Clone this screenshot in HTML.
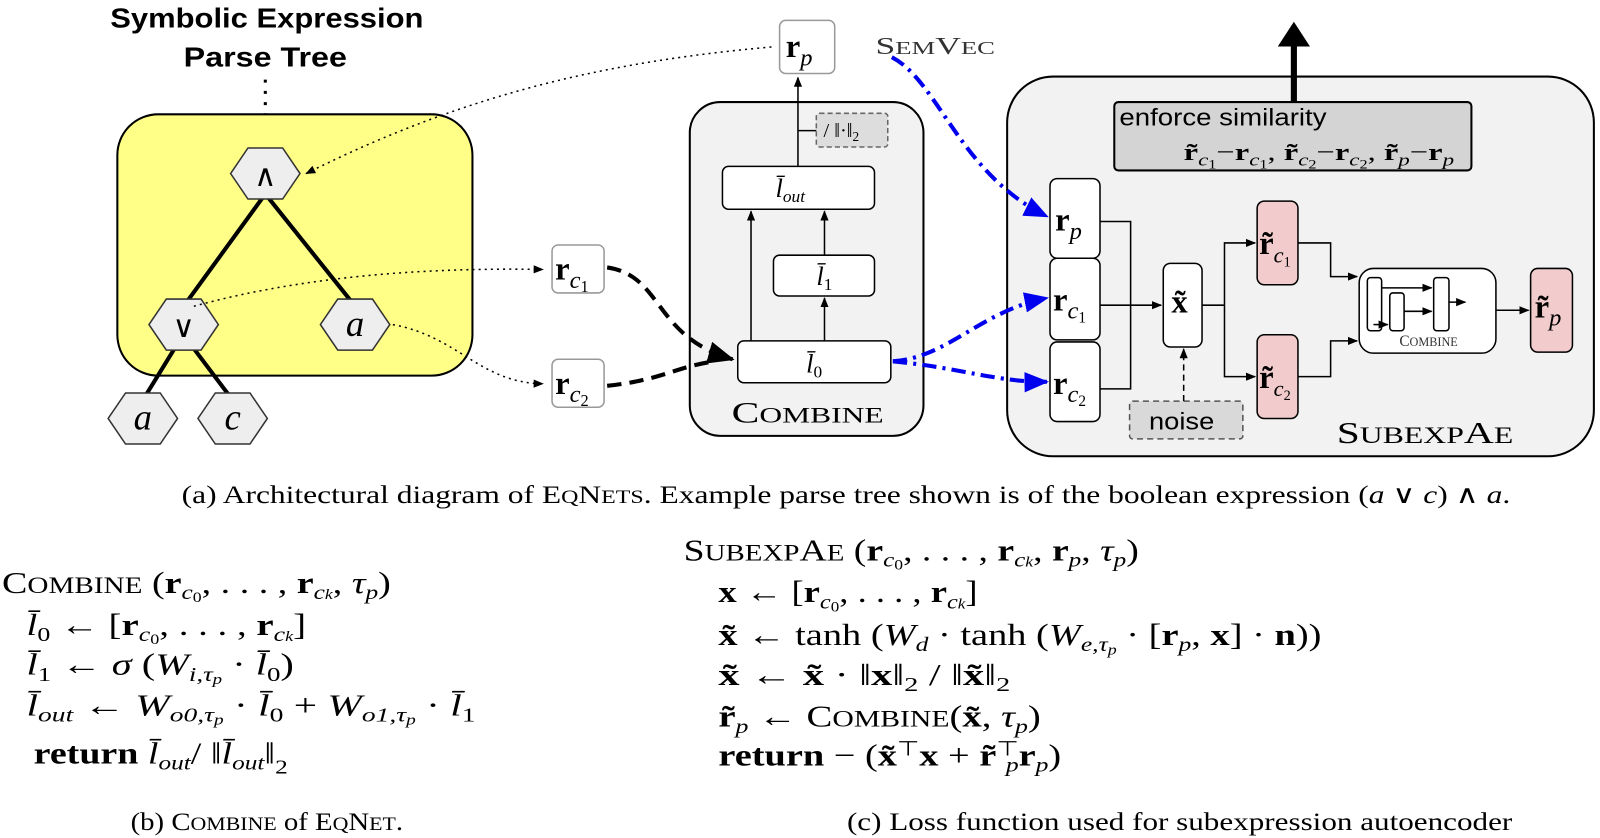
<!DOCTYPE html>
<html><head><meta charset="utf-8"><style>
body{margin:0;background:#fff;}
svg{display:block;}
.s{font-family:"Liberation Serif",serif;}
.ss{font-family:"Liberation Sans",sans-serif;}
</style></head><body>
<svg width="1600" height="838" viewBox="0 0 1568 821" preserveAspectRatio="none" xmlns="http://www.w3.org/2000/svg">
<defs>
<marker id="ab" markerWidth="10" markerHeight="10" refX="9" refY="5" orient="auto" markerUnits="userSpaceOnUse"><path d="M0,1 L10,5 L0,9 Z" fill="#000"/></marker>
<marker id="abig" markerWidth="26" markerHeight="22" refX="24" refY="11" orient="auto" markerUnits="userSpaceOnUse"><path d="M0,0 L26,11 L0,22 Z" fill="#000"/></marker>
<marker id="blue" markerWidth="24" markerHeight="20" refX="22" refY="10" orient="auto" markerUnits="userSpaceOnUse"><path d="M0,0 L24,10 L0,20 Z" fill="#0000ee"/></marker>
</defs>
<g font-family="Liberation Sans, sans-serif" font-weight="bold" font-size="27">
<text x="108" y="27" textLength="307" lengthAdjust="spacingAndGlyphs">Symbolic Expression</text>
<text x="180" y="65" textLength="160" lengthAdjust="spacingAndGlyphs">Parse Tree</text>
</g>
<line x1="260" y1="78" x2="260" y2="132" stroke="#000" stroke-width="3" stroke-dasharray="3,8"/>
<rect x="115" y="112" width="348" height="256" rx="40" fill="#ffff88" stroke="#000" stroke-width="2"/>
<g stroke="#000" stroke-width="4">
<line x1="260" y1="190" x2="180" y2="300"/><line x1="260" y1="190" x2="348" y2="300"/>
<line x1="175" y1="335" x2="140" y2="392"/><line x1="185" y1="335" x2="228" y2="392"/>
</g>
<g fill="#eeeeee" stroke="#333" stroke-width="1.5">
<polygon points="226,170 243,145 277,145 294,170 277,195 243,195"/>
<polygon points="146,318 163,293 197,293 214,318 197,343 163,343"/>
<polygon points="314,318 331,293 365,293 382,318 365,343 331,343"/>
<polygon points="106,410 123,385 157,385 174,410 157,435 123,435"/>
<polygon points="194,410 211,385 245,385 262,410 245,435 211,435"/>
</g>
<g class="s" font-size="36" text-anchor="middle" font-style="italic">
<text x="260" y="182" font-style="normal" font-size="30">∧</text>
<text x="180" y="330" font-style="normal" font-size="30">∨</text>
<text x="348" y="329">a</text><text x="140" y="421">a</text><text x="228" y="421">c</text>
</g>
<g fill="#fff" stroke="#999" stroke-width="1.5">
<rect x="764" y="20" width="54" height="52" rx="6"/>
<rect x="541" y="240" width="51" height="47" rx="6"/>
<rect x="541" y="352" width="51" height="47" rx="6"/>
</g>
<g class="s" font-size="32" font-weight="bold">
<text x="770" y="56">r<tspan font-weight="normal" font-style="italic" font-size="24" dy="8">p</tspan></text>
<text x="544" y="274">r<tspan font-weight="normal" font-style="italic" font-size="24" dy="8">c</tspan><tspan font-weight="normal" font-size="16" dy="4">1</tspan></text>
<text x="544" y="386">r<tspan font-weight="normal" font-style="italic" font-size="24" dy="8">c</tspan><tspan font-weight="normal" font-size="16" dy="4">2</tspan></text>
</g>
<text x="858" y="53" class="s" font-size="24" fill="#333" textLength="117" lengthAdjust="spacingAndGlyphs">S<tspan font-size="18">EM</tspan>V<tspan font-size="18">EC</tspan></text>
<rect x="676" y="100" width="229" height="327" rx="30" fill="#f2f2f2" stroke="#000" stroke-width="2"/>
<g fill="#fff" stroke="#000" stroke-width="1.5">
<rect x="723" y="334" width="150" height="41" rx="6"/>
<rect x="758" y="250" width="99" height="40" rx="6"/>
<rect x="708" y="163" width="149" height="42" rx="6"/>
</g>
<rect x="800" y="111" width="70" height="33" rx="3" fill="#ddd" stroke="#666" stroke-width="1.5" stroke-dasharray="5,3"/>
<text x="807" y="134" class="s" font-size="20">/ ‖·‖<tspan font-size="13" dy="4">2</tspan></text>
<g stroke="#000" stroke-width="1.5" fill="none">
<line x1="736" y1="334" x2="736" y2="207" marker-end="url(#ab)"/>
<line x1="808" y1="334" x2="808" y2="292" marker-end="url(#ab)"/>
<line x1="808" y1="250" x2="808" y2="207" marker-end="url(#ab)"/>
<line x1="782" y1="163" x2="782" y2="76" marker-end="url(#ab)"/>
<line x1="782" y1="128" x2="800" y2="128"/>
</g>
<g class="s" font-style="italic" font-size="26">
<text x="790" y="365">l̄<tspan font-style="normal" font-size="17" dy="5">0</tspan></text>
<text x="800" y="279">l̄<tspan font-style="normal" font-size="17" dy="5">1</tspan></text>
<text x="760" y="193">l̄<tspan font-size="17" dy="5">out</tspan></text>
</g>
<text x="717" y="414" class="s" font-size="29" textLength="149" lengthAdjust="spacingAndGlyphs">C<tspan font-size="22">OMBINE</tspan></text>
<rect x="987" y="75" width="575" height="372" rx="45" fill="#f2f2f2" stroke="#000" stroke-width="2"/>
<line x1="1268" y1="100" x2="1268" y2="40" stroke="#000" stroke-width="6"/>
<path d="M1255,44 L1268,24 L1281,44 Z" fill="#000" stroke="#000" stroke-width="3"/>
<rect x="1092" y="100" width="350" height="67" rx="4" fill="#d4d4d4" stroke="#000" stroke-width="2"/>
<text x="1097" y="123" class="ss" font-size="24" textLength="203" lengthAdjust="spacingAndGlyphs">enforce similarity</text>
<text x="1160" y="157" class="s" font-size="24" font-weight="bold" textLength="265" lengthAdjust="spacingAndGlyphs">r̃<tspan font-weight="normal" font-style="italic" font-size="17" dy="5">c</tspan><tspan font-weight="normal" font-size="12" dy="3">1</tspan><tspan dy="-8" font-weight="normal">−</tspan>r<tspan font-weight="normal" font-style="italic" font-size="17" dy="5">c</tspan><tspan font-weight="normal" font-size="12" dy="3">1</tspan><tspan dy="-8" font-weight="normal">, </tspan>r̃<tspan font-weight="normal" font-style="italic" font-size="17" dy="5">c</tspan><tspan font-weight="normal" font-size="12" dy="3">2</tspan><tspan dy="-8" font-weight="normal">−</tspan>r<tspan font-weight="normal" font-style="italic" font-size="17" dy="5">c</tspan><tspan font-weight="normal" font-size="12" dy="3">2</tspan><tspan dy="-8" font-weight="normal">, </tspan>r̃<tspan font-weight="normal" font-style="italic" font-size="17" dy="5">p</tspan><tspan dy="-5" font-weight="normal">−</tspan>r<tspan font-weight="normal" font-style="italic" font-size="17" dy="5">p</tspan></text>
<g fill="#fff" stroke="#000" stroke-width="1.5">
<rect x="1029" y="175" width="49" height="78" rx="7"/>
<rect x="1029" y="253" width="49" height="80" rx="7"/>
<rect x="1029" y="335" width="49" height="78" rx="7"/>
<rect x="1140" y="258" width="38" height="82" rx="7"/>
<rect x="1359" y="293" width="19" height="41" rx="3"/>
<rect x="1332" y="263" width="134" height="83" rx="14"/>
<rect x="1340" y="272" width="14" height="52" rx="3"/>
<rect x="1362" y="287" width="14" height="37" rx="3"/>
<rect x="1405" y="272" width="15" height="52" rx="3"/>
</g>
<g fill="#f2cccc" stroke="#000" stroke-width="1.5">
<rect x="1232" y="197" width="40" height="82" rx="7"/>
<rect x="1232" y="328" width="40" height="82" rx="7"/>
<rect x="1500" y="263" width="41" height="82" rx="7"/>
</g>
<rect x="1107" y="393" width="111" height="37" rx="3" fill="#d9d9d9" stroke="#555" stroke-width="1.5" stroke-dasharray="6,4"/>
<text x="1126" y="421" class="ss" font-size="24" textLength="64" lengthAdjust="spacingAndGlyphs">noise</text>
<g stroke="#000" stroke-width="1.5" fill="none">
<polyline points="1078,217 1108,217 1108,381 1078,381"/>
<line x1="1078" y1="299" x2="1138" y2="299" marker-end="url(#ab)"/>
<line x1="1160" y1="393" x2="1160" y2="342" stroke-dasharray="6,4" marker-end="url(#ab)"/>
<polyline points="1178,299 1200,299"/>
<polyline points="1200,299 1200,238 1230,238" marker-end="url(#ab)"/>
<polyline points="1200,299 1200,369 1230,369" marker-end="url(#ab)"/>
<polyline points="1272,238 1304,238 1304,271 1330,271" marker-end="url(#ab)"/>
<polyline points="1272,369 1304,369 1304,334 1330,334" marker-end="url(#ab)"/>
<line x1="1466" y1="304" x2="1498" y2="304" marker-end="url(#ab)"/>
<line x1="1354" y1="282" x2="1403" y2="282" marker-end="url(#ab)"/>
<line x1="1376" y1="305" x2="1403" y2="305" marker-end="url(#ab)"/>
<line x1="1346" y1="318" x2="1360" y2="318" marker-end="url(#ab)"/>
<line x1="1420" y1="296" x2="1436" y2="296" marker-end="url(#ab)"/>
</g>
<text x="1400" y="339" class="s" font-size="15" text-anchor="middle" fill="#333">C<tspan font-size="12">OMBINE</tspan></text>
<g class="s" font-size="32" font-weight="bold">
<text x="1034" y="226">r<tspan font-weight="normal" font-style="italic" font-size="24" dy="8">p</tspan></text>
<text x="1032" y="304">r<tspan font-weight="normal" font-style="italic" font-size="24" dy="8">c</tspan><tspan font-weight="normal" font-size="15" dy="4">1</tspan></text>
<text x="1032" y="386">r<tspan font-weight="normal" font-style="italic" font-size="24" dy="8">c</tspan><tspan font-weight="normal" font-size="15" dy="4">2</tspan></text>
<text x="1148" y="306">x̃</text>
<text x="1234" y="249">r̃<tspan font-weight="normal" font-style="italic" font-size="22" dy="8">c</tspan><tspan font-weight="normal" font-size="14" dy="4">1</tspan></text>
<text x="1234" y="380">r̃<tspan font-weight="normal" font-style="italic" font-size="22" dy="8">c</tspan><tspan font-weight="normal" font-size="14" dy="4">2</tspan></text>
<text x="1504" y="311">r̃<tspan font-weight="normal" font-style="italic" font-size="24" dy="8">p</tspan></text>
</g>
<text x="1310" y="434" class="s" font-size="30" textLength="173" lengthAdjust="spacingAndGlyphs">S<tspan font-size="23">UBEXP</tspan>A<tspan font-size="23">E</tspan></text>
<!-- connectors on top -->
<g fill="none" stroke="#000" stroke-width="1.5" stroke-dasharray="2,4">
<path d="M756,46 C600,60 460,90 300,170" marker-end="url(#ab)"/>
<path d="M190,300 C300,270 420,262 532,264" marker-end="url(#ab)"/>
<path d="M385,318 C450,330 470,375 532,376" marker-end="url(#ab)"/>
</g>
<g fill="none" stroke="#000" stroke-width="4" stroke-dasharray="14,8">
<path d="M595,262 C650,270 640,330 718,352" marker-end="url(#abig)"/>
<path d="M595,378 C650,372 660,360 700,354"/>
</g>
<g fill="none" stroke="#0000ee" stroke-width="4" stroke-dasharray="14,6,3,6">
<path d="M874,56 C920,80 940,170 1026,212" marker-end="url(#blue)"/>
<path d="M875,354 C930,350 960,305 1026,292" marker-end="url(#blue)"/>
<path d="M875,354 C940,360 980,375 1026,374" marker-end="url(#blue)"/>
</g>
<text x="178" y="493" class="s" font-size="25" textLength="1302" lengthAdjust="spacingAndGlyphs">(a) Architectural diagram of E<tspan font-size="19">Q</tspan>N<tspan font-size="19">ETS</tspan>. Example parse tree shown is of the boolean expression (<tspan font-style="italic">a</tspan> ∨ <tspan font-style="italic">c</tspan>) ∧ <tspan font-style="italic">a</tspan>.</text>
<g class="s" font-size="30">
<text x="2" y="581" textLength="381" lengthAdjust="spacingAndGlyphs">C<tspan font-size="23">OMBINE</tspan> (<tspan font-weight="bold">r</tspan><tspan font-style="italic" font-size="20" dy="6">c</tspan><tspan font-size="14" dy="3">0</tspan><tspan dy="-9">, . . . , </tspan><tspan font-weight="bold">r</tspan><tspan font-style="italic" font-size="20" dy="6">c<tspan font-size="14">k</tspan></tspan><tspan dy="-6">, </tspan><tspan font-style="italic">τ</tspan><tspan font-style="italic" font-size="20" dy="6">p</tspan><tspan dy="-6">)</tspan></text>
<text x="26" y="622" textLength="274" lengthAdjust="spacingAndGlyphs"><tspan font-style="italic">l̄</tspan><tspan font-size="20" dy="6">0</tspan><tspan dy="-6"> ← [</tspan><tspan font-weight="bold">r</tspan><tspan font-style="italic" font-size="20" dy="6">c</tspan><tspan font-size="14" dy="3">0</tspan><tspan dy="-9">, . . . , </tspan><tspan font-weight="bold">r</tspan><tspan font-style="italic" font-size="20" dy="6">c<tspan font-size="14">k</tspan></tspan><tspan dy="-6">]</tspan></text>
<text x="26" y="661" textLength="262" lengthAdjust="spacingAndGlyphs"><tspan font-style="italic">l̄</tspan><tspan font-size="20" dy="6">1</tspan><tspan dy="-6"> ← </tspan><tspan font-style="italic">σ</tspan> (<tspan font-style="italic">W</tspan><tspan font-style="italic" font-size="20" dy="6">i,τ</tspan><tspan font-style="italic" font-size="14" dy="3">p</tspan><tspan dy="-9"> · </tspan><tspan font-style="italic">l̄</tspan><tspan font-size="20" dy="6">0</tspan><tspan dy="-6">)</tspan></text>
<text x="26" y="701" textLength="440" lengthAdjust="spacingAndGlyphs"><tspan font-style="italic">l̄</tspan><tspan font-style="italic" font-size="20" dy="6">out</tspan><tspan dy="-6"> ← </tspan><tspan font-style="italic">W</tspan><tspan font-style="italic" font-size="20" dy="6">o0,τ</tspan><tspan font-style="italic" font-size="14" dy="3">p</tspan><tspan dy="-9"> · </tspan><tspan font-style="italic">l̄</tspan><tspan font-size="20" dy="6">0</tspan><tspan dy="-6"> + </tspan><tspan font-style="italic">W</tspan><tspan font-style="italic" font-size="20" dy="6">o1,τ</tspan><tspan font-style="italic" font-size="14" dy="3">p</tspan><tspan dy="-9"> · </tspan><tspan font-style="italic">l̄</tspan><tspan font-size="20" dy="6">1</tspan></text>
<text x="33" y="748" textLength="249" lengthAdjust="spacingAndGlyphs"><tspan font-weight="bold">return</tspan> <tspan font-style="italic">l̄</tspan><tspan font-style="italic" font-size="20" dy="6">out</tspan><tspan dy="-6">/ ‖</tspan><tspan font-style="italic">l̄</tspan><tspan font-style="italic" font-size="20" dy="6">out</tspan><tspan dy="-6">‖</tspan><tspan font-size="20" dy="10">2</tspan></text>
</g>
<text x="128" y="813" class="s" font-size="25" textLength="267" lengthAdjust="spacingAndGlyphs">(b) C<tspan font-size="19">OMBINE</tspan> of E<tspan font-size="19">Q</tspan>N<tspan font-size="19">ET</tspan>.</text>
<g class="s" font-size="30">
<text x="670" y="549" textLength="446" lengthAdjust="spacingAndGlyphs">S<tspan font-size="23">UBEXP</tspan>A<tspan font-size="23">E</tspan> (<tspan font-weight="bold">r</tspan><tspan font-style="italic" font-size="20" dy="6">c</tspan><tspan font-size="14" dy="3">0</tspan><tspan dy="-9">, . . . , </tspan><tspan font-weight="bold">r</tspan><tspan font-style="italic" font-size="20" dy="6">c<tspan font-size="14">k</tspan></tspan><tspan dy="-6">, </tspan><tspan font-weight="bold">r</tspan><tspan font-style="italic" font-size="20" dy="6">p</tspan><tspan dy="-6">, </tspan><tspan font-style="italic">τ</tspan><tspan font-style="italic" font-size="20" dy="6">p</tspan><tspan dy="-6">)</tspan></text>
<text x="704" y="590" textLength="254" lengthAdjust="spacingAndGlyphs"><tspan font-weight="bold">x</tspan> ← [<tspan font-weight="bold">r</tspan><tspan font-style="italic" font-size="20" dy="6">c</tspan><tspan font-size="14" dy="3">0</tspan><tspan dy="-9">, . . . , </tspan><tspan font-weight="bold">r</tspan><tspan font-style="italic" font-size="20" dy="6">c<tspan font-size="14">k</tspan></tspan><tspan dy="-6">]</tspan></text>
<text x="704" y="632" textLength="591" lengthAdjust="spacingAndGlyphs"><tspan font-weight="bold">x̃</tspan> ← tanh (<tspan font-style="italic">W</tspan><tspan font-style="italic" font-size="20" dy="6">d</tspan><tspan dy="-6"> · tanh (</tspan><tspan font-style="italic">W</tspan><tspan font-style="italic" font-size="20" dy="6">e,τ</tspan><tspan font-style="italic" font-size="14" dy="3">p</tspan><tspan dy="-9"> · [</tspan><tspan font-weight="bold">r</tspan><tspan font-style="italic" font-size="20" dy="6">p</tspan><tspan dy="-6">, </tspan><tspan font-weight="bold">x</tspan>] · <tspan font-weight="bold">n</tspan>))</text>
<text x="704" y="671" textLength="286" lengthAdjust="spacingAndGlyphs"><tspan font-weight="bold">x̃</tspan> ← <tspan font-weight="bold">x̃</tspan> · ‖<tspan font-weight="bold">x</tspan>‖<tspan font-size="20" dy="6">2</tspan><tspan dy="-6"> / ‖</tspan><tspan font-weight="bold">x̃</tspan>‖<tspan font-size="20" dy="6">2</tspan></text>
<text x="704" y="712" textLength="316" lengthAdjust="spacingAndGlyphs"><tspan font-weight="bold">r̃</tspan><tspan font-style="italic" font-size="20" dy="6">p</tspan><tspan dy="-6"> ← C</tspan><tspan font-size="23">OMBINE</tspan>(<tspan font-weight="bold">x̃</tspan>, <tspan font-style="italic">τ</tspan><tspan font-style="italic" font-size="20" dy="6">p</tspan><tspan dy="-6">)</tspan></text>
<text x="704" y="750" textLength="336" lengthAdjust="spacingAndGlyphs"><tspan font-weight="bold">return</tspan> − (<tspan font-weight="bold">x̃</tspan><tspan font-size="20" dy="-10">⊤</tspan><tspan font-weight="bold" dy="10">x</tspan> + <tspan font-weight="bold">r̃</tspan><tspan font-size="20" dy="-10">⊤</tspan><tspan font-style="italic" font-size="20" dy="16" dx="-10">p</tspan><tspan font-weight="bold" dy="-6">r</tspan><tspan font-style="italic" font-size="20" dy="6">p</tspan><tspan dy="-6">)</tspan></text>
</g>
<text x="830" y="813" class="s" font-size="25" textLength="652" lengthAdjust="spacingAndGlyphs">(c) Loss function used for subexpression autoencoder</text>
</svg>
</body></html>
